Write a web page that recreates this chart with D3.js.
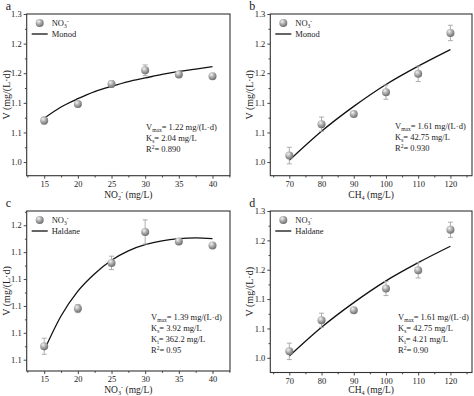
<!DOCTYPE html>
<html>
<head>
<meta charset="utf-8">
<script src="https://cdn.jsdelivr.net/npm/d3@7"></script>
<style>
  body { margin: 0; background: #fff; }
  svg { display: block; }
</style>
</head>
<body>
<svg id="chart" width="474" height="396"></svg>
<script>
// nitrate series (panels a, c)
var no3Conc = [15, 20, 25, 30, 35, 40];
var no3Rate = [1.070, 1.098, 1.132, 1.155, 1.148, 1.145];
var no3Err = [0.006, 0.003, 0.005, 0.009, 0.002, 0.002];

// methane series (panels b, d)
var ch4Conc = [70, 80, 90, 100, 110, 120];
var ch4Rate = [1.011, 1.064, 1.081, 1.118, 1.149, 1.218];
var ch4Err = [0.014, 0.012, 0.004, 0.012, 0.013, 0.013];

// fitted curves
var monodNo3X = [15, 17.5, 20, 22.5, 25, 27.5, 30, 32.5, 35, 37.5, 40];
var monodNo3Y = [1.074, 1.093, 1.107, 1.119, 1.128, 1.136, 1.142, 1.148, 1.153, 1.157, 1.161];
var haldNo3X = [15, 17.5, 20, 22.5, 25, 27.5, 30, 32.5, 35, 37.5, 40];
var haldNo3Y = [1.067, 1.0925, 1.111, 1.124, 1.134, 1.141, 1.1455, 1.1484, 1.150, 1.1506, 1.150];
var fitCh4X = [70, 80, 90, 100, 110, 120];
var fitCh4Y = [1.003, 1.052, 1.094, 1.131, 1.162, 1.190];

// axis ticks
var xTicksNo3 = [15, 20, 25, 30, 35, 40];
var xTicksCh4 = [70, 80, 90, 100, 110, 120];
var yTicksWide = [1.00, 1.05, 1.10, 1.15, 1.20, 1.25];
var yLabelsWide = ["1.0", "1.1", "1.1", "1.2", "1.2", "1.3"];
var yTicksNarrow = [1.06, 1.08, 1.10, 1.12, 1.14, 1.16];
var yLabelsNarrow = ["1.1", "1.1", "1.1", "1.1", "1.1", "1.2"];

var fontFam = "'Liberation Serif', 'Times New Roman', serif";
var svg = d3.select("#chart");

// sphere look for the markers
var defs = svg.append("defs");
var grad = defs.append("radialGradient")
    .attr("id", "ball")
    .attr("cx", "40%").attr("cy", "35%").attr("r", "65%")
    .attr("fx", "35%").attr("fy", "30%");
grad.append("stop").attr("offset", "0%").attr("stop-color", "#f4f4f4");
grad.append("stop").attr("offset", "55%").attr("stop-color", "#a6a6a6");
grad.append("stop").attr("offset", "100%").attr("stop-color", "#6e6e6e");

// text with sub/superscripts; parts = [[text, "sub"|"sup"|null], ...]
function richText(g, x, y, parts, size, anchor) {
    let t = g.append("text")
        .attr("x", x).attr("y", y)
        .style("font-family", fontFam)
        .style("font-size", size + "px")
        .style("fill", "#222")
        .style("text-anchor", anchor || "start");
    let shift = 0;
    parts.forEach(function(p) {
        let target = 0;
        if (p[1] == "sub") target = size * 0.22;
        if (p[1] == "sup") target = -size * 0.4;
        t.append("tspan")
            .attr("dy", target - shift)
            .style("font-size", (p[1] ? size * 0.65 : size) + "px")
            .text(p[0]);
        shift = target;
    });
    return t;
}

function drawPanel(p) {
    let g = svg.append("g");
    let x = d3.scaleLinear().domain(p.xDomain).range([p.left, p.right]);
    let y = d3.scaleLinear().domain(p.yDomain).range([p.bottom, p.top]);

    // frame
    g.append("rect")
        .attr("x", p.left).attr("y", p.top)
        .attr("width", p.right - p.left).attr("height", p.bottom - p.top)
        .style("fill", "none").style("stroke", "#333").style("stroke-width", 1.1);

    // x axis
    let xAxis = g.append("g")
        .attr("transform", "translate(0," + p.bottom + ")")
        .call(d3.axisBottom(x).tickValues(p.xTicks).tickSize(3).tickPadding(2).tickFormat(d3.format("d")));
    let step = p.xTicks[1] - p.xTicks[0];
    let xMinor = p.xTicks.map(function(d) { return d - step / 2; })
        .concat([p.xTicks[p.xTicks.length - 1] + step / 2])
        .filter(function(d) { return d > p.xDomain[0] && d < p.xDomain[1]; });
    g.append("g")
        .attr("transform", "translate(0," + p.bottom + ")")
        .call(d3.axisBottom(x).tickValues(xMinor).tickSize(1.8).tickFormat(""))
        .select(".domain").remove();

    // y axis
    let yAxis = g.append("g")
        .attr("transform", "translate(" + p.left + ",0)")
        .call(d3.axisLeft(y).tickValues(p.yTicks).tickSize(3).tickPadding(2)
            .tickFormat(function(d, i) { return p.yLabels[i]; }));
    let yStep = p.yTicks[1] - p.yTicks[0];
    let yMinor = p.yTicks.map(function(d) { return d - yStep / 2; })
        .concat([p.yTicks[p.yTicks.length - 1] + yStep / 2])
        .filter(function(d) { return d > p.yDomain[0] && d < p.yDomain[1]; });
    g.append("g")
        .attr("transform", "translate(" + p.left + ",0)")
        .call(d3.axisLeft(y).tickValues(yMinor).tickSize(1.8).tickFormat(""))
        .select(".domain").remove();

    [xAxis, yAxis].forEach(function(a) {
        a.select(".domain").remove();
        a.selectAll("text")
            .style("font-family", fontFam)
            .style("font-size", "8.5px")
            .style("fill", "#222");
    });
    g.selectAll(".tick line").style("stroke", "#333").style("stroke-width", 0.9);

    // axis titles
    richText(g, 0, 0, [["V (mg/(L·d)", null]], 10, "middle")
        .attr("transform", "translate(" + (p.left - 17) + "," + ((p.top + p.bottom) / 2) + ") rotate(-90)");
    richText(g, (p.left + p.right) / 2, Math.min(p.bottom + 22, 393), p.xTitle, 9.5, "middle");

    // panel letter
    g.append("text")
        .attr("x", p.left - 21).attr("y", p.top - 4)
        .text(p.letter)
        .style("font-family", fontFam)
        .style("font-size", "12px")
        .style("fill", "#222");

    // fitted line
    let line = d3.line()
        .x(function(d) { return x(d[0]); })
        .y(function(d) { return y(d[1]); })
        .curve(d3.curveMonotoneX);
    g.append("path")
        .datum(d3.zip(p.fitX, p.fitY))
        .attr("d", line)
        .style("fill", "none").style("stroke", "#111").style("stroke-width", 1.3);

    // error bars
    let pts = p.xs.map(function(d, i) { return {x: d, y: p.ys[i], e: p.errs[i]}; });
    pts.forEach(function(d) {
        let cx = x(d.x), y1 = y(d.y + d.e), y2 = y(d.y - d.e);
        [[cx, y1, cx, y2], [cx - 2.5, y1, cx + 2.5, y1], [cx - 2.5, y2, cx + 2.5, y2]].forEach(function(s) {
            g.append("line")
                .attr("x1", s[0]).attr("y1", s[1]).attr("x2", s[2]).attr("y2", s[3])
                .style("stroke", "#a5a5a5").style("stroke-width", 0.9);
        });
    });

    // markers
    g.selectAll(".pt")
        .data(pts)
        .enter()
        .append("circle")
        .attr("cx", function(d) { return x(d.x); })
        .attr("cy", function(d) { return y(d.y); })
        .attr("r", 4)
        .style("fill", "url(#ball)");

    // legend
    g.append("circle")
        .attr("cx", p.left + 13).attr("cy", p.top + 9).attr("r", 4)
        .style("fill", "url(#ball)");
    richText(g, p.left + 25, p.top + 12, [["NO", null], ["3", "sub"], ["-", "sup"]], 8.5);
    g.append("line")
        .attr("x1", p.left + 5).attr("x2", p.left + 21)
        .attr("y1", p.top + 20).attr("y2", p.top + 20)
        .style("stroke", "#111").style("stroke-width", 1.3);
    g.append("text")
        .attr("x", p.left + 25).attr("y", p.top + 23)
        .text(p.model)
        .style("font-family", fontFam)
        .style("font-size", "8.5px")
        .style("fill", "#222");

    // fit parameters
    p.notes.forEach(function(n, i) {
        richText(g, p.noteX, p.noteY + i * 11, n, 8.5);
    });
}

drawPanel({
    letter: "a", left: 26.7, right: 230, top: 14, bottom: 175.7,
    xDomain: [12.4, 42.6], yDomain: [0.977, 1.25],
    xTicks: xTicksNo3, yTicks: yTicksWide, yLabels: yLabelsWide,
    xs: no3Conc, ys: no3Rate, errs: no3Err, fitX: monodNo3X, fitY: monodNo3Y,
    model: "Monod", xTitle: [["NO", null], ["2", "sub"], ["-", "sup"], [" (mg/L)", null]],
    noteX: 146, noteY: 130,
    notes: [[["V", null], ["max", "sub"], ["= 1.22 mg/(L·d)", null]],
            [["K", null], ["s", "sub"], ["= 2.04 mg/L", null]],
            [["R", null], ["2", "sup"], ["= 0.890", null]]]
});

drawPanel({
    letter: "b", left: 270.3, right: 472, top: 14, bottom: 175.7,
    xDomain: [64.1, 126.7], yDomain: [0.977, 1.25],
    xTicks: xTicksCh4, yTicks: yTicksWide, yLabels: yLabelsWide,
    xs: ch4Conc, ys: ch4Rate, errs: ch4Err, fitX: fitCh4X, fitY: fitCh4Y,
    model: "Monod", xTitle: [["CH", null], ["4", "sub"], [" (mg/L)", null]],
    noteX: 395, noteY: 129,
    notes: [[["V", null], ["max", "sub"], ["= 1.61 mg/(L·d)", null]],
            [["K", null], ["s", "sub"], ["= 42.75 mg/L", null]],
            [["R", null], ["2", "sup"], ["= 0.930", null]]]
});

drawPanel({
    letter: "c", left: 26.7, right: 230, top: 211, bottom: 371,
    xDomain: [12.4, 42.6], yDomain: [1.0516, 1.1706],
    xTicks: xTicksNo3, yTicks: yTicksNarrow, yLabels: yLabelsNarrow,
    xs: no3Conc, ys: no3Rate, errs: no3Err, fitX: haldNo3X, fitY: haldNo3Y,
    model: "Haldane", xTitle: [["NO", null], ["3", "sub"], ["-", "sup"], [" (mg/L)", null]],
    noteX: 151, noteY: 320,
    notes: [[["V", null], ["max", "sub"], ["= 1.39 mg/(L·d)", null]],
            [["K", null], ["s", "sub"], ["= 3.92 mg/L", null]],
            [["K", null], ["i", "sub"], ["= 362.2 mg/L", null]],
            [["R", null], ["2", "sup"], ["= 0.95", null]]]
});

drawPanel({
    letter: "d", left: 270.3, right: 472, top: 211, bottom: 372.5,
    xDomain: [64.1, 126.7], yDomain: [0.975, 1.25],
    xTicks: xTicksCh4, yTicks: yTicksWide, yLabels: yLabelsWide,
    xs: ch4Conc, ys: ch4Rate, errs: ch4Err, fitX: fitCh4X, fitY: fitCh4Y,
    model: "Haldane", xTitle: [["CH", null], ["4", "sub"], [" (mg/L)", null]],
    noteX: 398, noteY: 320,
    notes: [[["V", null], ["max", "sub"], ["= 1.61 mg/(L·d)", null]],
            [["K", null], ["s", "sub"], ["= 42.75 mg/L", null]],
            [["K", null], ["i", "sub"], ["= 4.21 mg/L", null]],
            [["R", null], ["2", "sup"], ["= 0.90", null]]]
});
</script>
</body>
</html>
